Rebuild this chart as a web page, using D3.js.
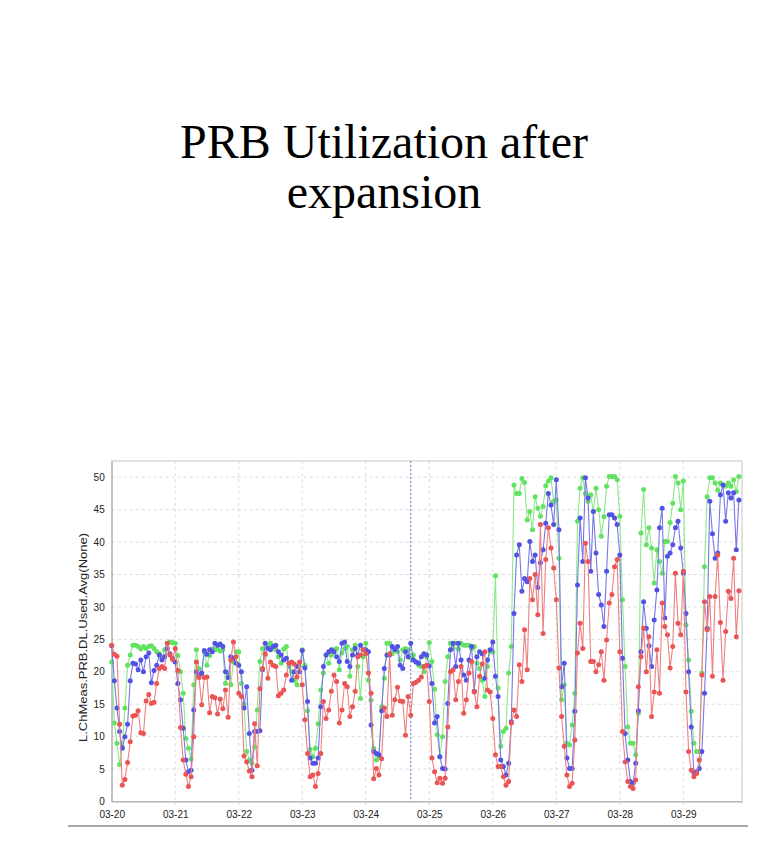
<!DOCTYPE html>
<html>
<head>
<meta charset="utf-8">
<script src="https://cdnjs.cloudflare.com/ajax/libs/d3/7.8.5/d3.min.js"></script>
<style>
  html, body { margin: 0; padding: 0; background: #fff; }
  svg { display: block; }
  .tick text { font-family: "Liberation Sans", Arial, sans-serif; font-size: 10px; fill: #222; }
</style>
</head>
<body>
<svg id="chart"></svg>
<script>
'use strict';

(function () {

var WIDTH = 768;
var HEIGHT = 866;
var MARGIN = { TOP: 461, RIGHT: 26, BOTTOM: 64.5, LEFT: 111.7 };

var TITLE_LINES = ['PRB Utilization after', 'expansion'];
var Y_LABEL = 'L.ChMeas.PRB.DL.Used.Avg(None)';

// hourly samples starting 03-20 00:00
var START = Date.UTC(2023, 2, 20, 0, 0);
var END = Date.UTC(2023, 2, 29, 22, 10);
var MARKER_TIME = Date.UTC(2023, 2, 24, 17, 0);
var Y_TICKS = [0, 5, 10, 15, 20, 25, 30, 35, 40, 45, 50];

var green = [
    21.5, 12.1, 9, 5.7, 8.4, 14.4, 21, 22.6, 24.1, 24.1, 23.9, 23.5, 23.9, 23.6, 23.9, 24, 23.6, 23.1, 22.8, 22.1, 23.4, 24.4, 24.6, 24.5,
    24.4, 22.5, 20, 16.7, 9.7, 8.2, 6.5, 18, 23.4, 20.5, 19.7, 23, 21, 22.5, 23.5, 23.4, 23.5, 23.2, 23.4, 18.2, 19.8, 18, 21.5, 23.1,
    23.1, 18.2, 15, 7.7, 6.4, 5.9, 8.4, 14.1, 21.6, 23.6, 22.6, 23.9, 24.4, 23.9, 23.4, 22.3, 21.3, 23.5, 23.9, 20.8, 20, 18.7, 18, 20.8,
    23.4, 21, 14, 8, 6.9, 8.2, 12, 17.2, 19.8, 22.6, 21.3, 22.6, 23.4, 23.6, 20.3, 22.9, 23.6, 23.9, 19.3, 23.4, 24.1, 20.8, 15.9, 22.3,
    24.4, 18.7, 15.6, 8.2, 6.4, 6.9, 14.6, 19, 24.4, 24.4, 22.8, 23.4, 23.1, 21.8, 23.4, 23.6, 23.4, 22.1, 22.6, 21.5, 21, 20.8, 20, 22.3,
    24.5, 21.6, 17.3, 10.3, 6.9, 10, 18.5, 22.3, 24.4, 23.6, 24.4, 23.5, 24.4, 24.1, 24.1, 24.1, 23.6, 23.9, 21.3, 20.5, 18.7, 16.2, 20.8, 23.1,
    23.1, 34.8, 17.5, 8.5, 10.8, 11.3, 19.8, 23.9, 48.8, 47.5, 47.5, 49.8, 49.2, 43.4, 44.7, 41.9, 47, 45.2, 44, 45.5, 48.7, 49.4, 49.9, 46.3,
    46.5, 37.5, 15.7, 18, 9, 8.7, 11.8, 16.7, 43.2, 48.3, 49.9, 47.5, 46.3, 47.3, 44.7, 48.3, 45, 40.9, 43.9, 48.6, 50.1, 50.1, 50.1, 49.6,
    44, 31.1, 20.8, 11.5, 9, 9, 7.2, 13.6, 41.4, 48.1, 39.6, 42.2, 39.1, 33.7, 38.8, 37, 35.2, 40.1, 40.1, 43, 46, 50.1, 49.1, 45,
    49.4, 27.2, 21.8, 13.9, 9, 7.7, 7.7, 19.8, 36.2, 47, 49.9, 49.9, 49.1, 48, 49.1, 48.8, 48.6, 49.1, 48.6, 49.6, 47.8, 50.1
];

var blue = [
    24, 18.6, 14.4, 10.8, 8.2, 10, 11.9, 18.6, 21.3, 21.2, 20.3, 21.8, 20, 22.3, 22.9, 18.3, 20.2, 21, 22.6, 21.8, 22.3, 23.6, 22.8, 22.1,
    21.5, 18.2, 15.7, 11.3, 6.4, 4.6, 4.8, 14.1, 20, 19.5, 19.8, 23.3, 22.7, 23.4, 23.1, 24.4, 24.1, 24.3, 23.9, 20, 19.1, 22.3, 22.1, 21.3,
    21, 20, 14.4, 17.7, 10.5, 4.8, 10.8, 10.8, 10.9, 20.3, 24.4, 23.6, 23.4, 23.9, 24.1, 23.1, 22.6, 21.8, 22.1, 21.3, 18.7, 20, 20.8, 20,
    23.3, 20.6, 15.4, 6.7, 5.9, 5.9, 6.7, 14.6, 20.8, 22.6, 23.1, 23.4, 23.1, 22.3, 21.6, 24.4, 24.6, 21.6, 20.8, 22.6, 23.6, 22.6, 24.1, 23.4,
    23.4, 23.1, 11.8, 7.7, 7.4, 7.2, 14, 20.5, 22.6, 22.6, 23.9, 23.4, 23.9, 21, 20.5, 23.1, 22.3, 24.4, 21.8, 21.5, 21.3, 22.3, 22.8, 22.6,
    20.9, 18.2, 12.1, 13.1, 6.9, 5.1, 5, 15.1, 23.4, 24.4, 20.8, 24.4, 21.8, 19.5, 18.7, 21.8, 23.9, 17, 22.3, 23.1, 22.8, 19, 21.8, 23.4,
    24.6, 19.3, 16.2, 6.4, 5.4, 4.1, 5.9, 12.3, 29, 38, 39.6, 32.4, 34.4, 33.9, 40.1, 37, 38, 33, 36.8, 38.8, 42.9, 47.5, 45.7, 42.7,
    49.6, 41.9, 17.7, 21.3, 6.7, 5.1, 5.1, 13.9, 33.4, 43.7, 37, 49.9, 46.8, 35.5, 44.7, 38.3, 31.9, 30.3, 27, 35.5, 44.2, 44.2, 43.7, 42.7,
    38, 22.1, 10.5, 6.4, 3.1, 2.8, 5.9, 14, 23.1, 30.8, 26.7, 24, 20.8, 28, 32.6, 42.2, 45.2, 28.3, 37.8, 38.3, 39.6, 42.2, 43.2, 39.1,
    35.2, 29, 20, 11.5, 4.3, 4.6, 5.1, 7.7, 16.7, 26.7, 46.3, 41.3, 37.5, 38.3, 47.3, 48.8, 43.2, 47.6, 46.8, 47.6, 38.8, 46.5
];

var red = [
    24.1, 22.7, 22.4, 11.9, 2.5, 3.4, 6, 9.2, 13.2, 13.3, 14, 10.6, 10.5, 15.5, 16.5, 15.1, 15.3, 18.2, 20.5, 20.8, 20.5, 24.4, 22.6, 21.9,
    23.6, 20.2, 11.4, 6.4, 4.2, 2.3, 3.8, 10, 21.5, 19.1, 14.9, 19.1, 19.2, 13.7, 16.2, 16, 13.5, 15.8, 14.3, 17.2, 13, 21.8, 24.6, 22.3,
    16.7, 16.2, 7, 6.1, 4.7, 3.8, 12, 5.5, 17.4, 20.5, 22.8, 19, 21.5, 21, 20.8, 16.3, 16.7, 17.2, 19.5, 21.3, 21.5, 21.2, 19.2, 21.5,
    18, 12.6, 7.4, 3.8, 4.1, 2.3, 4.3, 7.4, 15.4, 12.8, 14.1, 17, 19.5, 18.5, 12.1, 14.1, 18.2, 17.7, 13.1, 14.6, 17, 22.3, 22.6, 23.4,
    22.8, 19.8, 16.7, 3.5, 5.1, 4.1, 6.6, 14.4, 13.1, 22.8, 13.3, 15.7, 17.6, 15.5, 15.4, 10.2, 16.2, 13.3, 18.2, 18.4, 18.7, 19.2, 20.8, 21,
    15.4, 6.7, 4.6, 2.9, 3.6, 2.8, 3.6, 11.5, 20, 20.3, 15.7, 18.5, 20.8, 13.6, 15.7, 19.8, 21.6, 16.9, 14.6, 19.3, 21.2, 23.1, 17.2, 16.9,
    12.8, 7.2, 5.4, 5.4, 3.8, 2.5, 3.1, 12.1, 14.1, 13.1, 21.1, 18.5, 26.5, 20.3, 34.4, 31.1, 35, 28.8, 42.7, 25.9, 37.3, 42.2, 39.1, 36,
    31.1, 20.6, 13.1, 8.5, 4.1, 2.3, 2.8, 9.5, 22.9, 27.5, 23.6, 39.8, 37, 21.6, 21.6, 20, 21.1, 23.1, 18.7, 24.9, 30.6, 31.9, 36.2, 37.3,
    23.1, 10.8, 6.1, 3.1, 2.3, 2, 3.3, 17.7, 22.3, 26.7, 20, 25.4, 13.1, 16.9, 23.4, 16.7, 30.6, 27, 25.7, 20.6, 23.9, 35.2, 27.5, 25.7,
    35.5, 16.9, 7.7, 4.8, 3.8, 4.3, 6.4, 19.5, 30.8, 26.5, 31.6, 19.3, 31.6, 38, 27.6, 18.7, 26.2, 32.4, 31.3, 37.5, 25.4, 32.5
];

var SERIES = [
    { name: 'green', values: green, line: '#8be88b', dot: '#62e262' },
    { name: 'blue', values: blue, line: '#7777e6', dot: '#5252e4' },
    { name: 'red', values: red, line: '#ee8080', dot: '#e95454' }
];

var HOUR = 3600 * 1000;
var plotW = WIDTH - MARGIN.LEFT - MARGIN.RIGHT;
var plotH = HEIGHT - MARGIN.TOP - MARGIN.BOTTOM;

var svg = d3.select('#chart')
    .attr('width', WIDTH)
    .attr('height', HEIGHT);

// title
svg.append('text')
    .attr('x', 384)
    .attr('y', 158)
    .attr('text-anchor', 'middle')
    .style('font-family', '"Liberation Serif", "Times New Roman", serif')
    .style('font-size', '48px')
    .selectAll('tspan')
    .data(TITLE_LINES)
    .enter()
    .append('tspan')
    .attr('x', 384)
    .attr('dy', function(d, i) { return i === 0 ? 0 : 50; })
    .text(function(d) { return d; });

var x = d3.scaleUtc()
    .domain([START, END])
    .range([0, plotW]);

var y = d3.scaleLinear()
    .domain([0, 52.5])
    .range([plotH, 0]);

var g = svg.append('g')
    .attr('transform', 'translate(' + MARGIN.LEFT + ',' + MARGIN.TOP + ')');

var days = d3.utcDay.range(START, END);

// grid
g.append('g')
    .selectAll('line')
    .data(Y_TICKS.slice(1))
    .enter()
    .append('line')
    .attr('x1', 0).attr('x2', plotW)
    .attr('y1', function(d) { return y(d); })
    .attr('y2', function(d) { return y(d); })
    .attr('stroke', '#dcdcdc')
    .attr('stroke-dasharray', '3,3');

g.append('g')
    .selectAll('line')
    .data(days.slice(1))
    .enter()
    .append('line')
    .attr('x1', function(d) { return x(d); })
    .attr('x2', function(d) { return x(d); })
    .attr('y1', 0).attr('y2', plotH + 4)
    .attr('stroke', '#dcdcdc')
    .attr('stroke-dasharray', '3,3');

// frame
g.append('rect')
    .attr('width', plotW)
    .attr('height', plotH)
    .attr('fill', 'none')
    .attr('stroke', '#c4c4c4');

// marker line
g.append('line')
    .attr('x1', x(MARKER_TIME)).attr('x2', x(MARKER_TIME))
    .attr('y1', 0).attr('y2', plotH)
    .attr('stroke', '#6f6fd0')
    .attr('stroke-dasharray', '2,2');

var yAxis = d3.axisLeft(y)
    .tickValues(Y_TICKS)
    .tickSize(0)
    .tickPadding(7);

g.append('g')
    .attr('class', 'y axis')
    .call(yAxis)
    .call(function(s) { s.select('.domain').attr('stroke', '#aaa'); });

var xAxis = d3.axisBottom(x)
    .tickValues(days)
    .tickFormat(d3.utcFormat('%m-%d'))
    .tickSize(0)
    .tickPadding(9);

g.append('g')
    .attr('class', 'x axis')
    .attr('transform', 'translate(0,' + plotH + ')')
    .call(xAxis)
    .call(function(s) { s.select('.domain').attr('stroke', '#aaa'); });

// y label
svg.append('text')
    .attr('transform', 'translate(87,' + 637.5 + ') rotate(-90)')
    .attr('text-anchor', 'middle')
    .attr('textLength', 209)
    .attr('lengthAdjust', 'spacingAndGlyphs')
    .style('font-family', '"Liberation Sans", Arial, sans-serif')
    .style('font-size', '11.5px')
    .style('fill', '#222')
    .text(Y_LABEL);

// series
var line = d3.line()
    .x(function(d, i) { return x(START + i * HOUR); })
    .y(function(d) { return y(d); });

SERIES.forEach(function(s) {
    var layer = g.append('g').attr('class', s.name);

    layer.append('path')
        .datum(s.values)
        .attr('fill', 'none')
        .attr('stroke', s.line)
        .attr('stroke-width', 1.1)
        .attr('d', line);

    layer.selectAll('circle')
        .data(s.values)
        .enter()
        .append('circle')
        .attr('cx', function(d, i) { return x(START + i * HOUR); })
        .attr('cy', function(d) { return y(d); })
        .attr('r', 2.5)
        .attr('fill', s.dot);
});

// bottom rule of the slide
svg.append('line')
    .attr('x1', 68).attr('x2', 748)
    .attr('y1', 826).attr('y2', 826)
    .attr('stroke', '#a8a8a8')
    .attr('stroke-width', 2);

})();
</script>
</body>
</html>
